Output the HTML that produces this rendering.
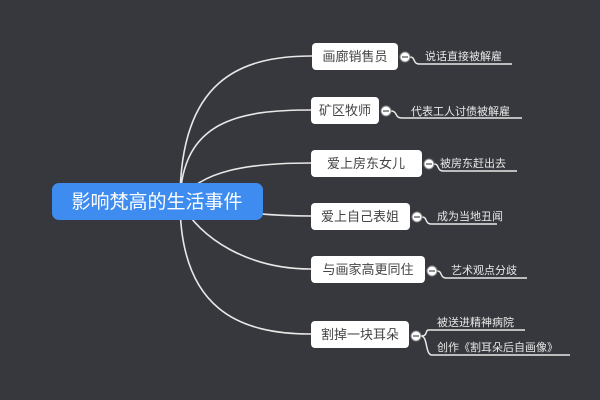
<!DOCTYPE html>
<html><head><meta charset="utf-8"><style>
body{margin:0;background:#36383d;}
svg{display:block}
text{font-family:"Liberation Sans","Noto Sans CJK SC",sans-serif;}
</style></head><body>
<svg width="600" height="400" xmlns="http://www.w3.org/2000/svg">
<rect width="600" height="400" fill="#36383d"/>
<g fill="none" stroke="#e8e8e8" stroke-width="1.6">
<path d="M180,201 C180,80 240,56 312,56"/>
<path d="M180,201 C182,120 240,110 311,110"/>
<path d="M180,201 C200,170 250,163 311,163"/>
<path d="M180,201 C220,210 260,216 311,216"/>
<path d="M180,201 C200,240 250,269 311,269"/>
<path d="M180,201 C180,310 240,334 311,334"/>
</g>
<rect x="52" y="183" width="211" height="37" rx="7" fill="#3f8cf0"/>
<text x="157" y="208" font-size="19" fill="#fff" text-anchor="middle">影响梵高的生活事件</text>
<g font-size="13" fill="#444">
<rect x="312" y="43" width="86" height="27" rx="4" fill="#fff"/><text x="355" y="61" text-anchor="middle">画廊销售员</text>
<rect x="311" y="97" width="68" height="27" rx="4" fill="#fff"/><text x="345" y="115" text-anchor="middle">矿区牧师</text>
<rect x="311" y="150" width="111" height="27" rx="4" fill="#fff"/><text x="366" y="168" text-anchor="middle">爱上房东女儿</text>
<rect x="311" y="203" width="99" height="27" rx="4" fill="#fff"/><text x="360" y="221" text-anchor="middle">爱上自己表姐</text>
<rect x="311" y="256" width="114" height="27" rx="4" fill="#fff"/><text x="368" y="274" text-anchor="middle">与画家高更同住</text>
<rect x="311" y="321" width="98" height="27" rx="4" fill="#fff"/><text x="360" y="339" text-anchor="middle">割掉一块耳朵</text>
</g>
<g fill="none" stroke="#e8e8e8" stroke-width="1.5">
<path d="M410,57 C416,57 412,64 420,64 L512,64"/>
<path d="M391,111 C398,111 394,118 402,118 L522,118"/>
<path d="M434,164 C440,164 436,171 444,171 L517,171"/>
<path d="M422,217 C428,217 424,224 432,224 L497,224"/>
<path d="M437,271 C443,271 439,278 447,278 L527,278"/>
<path d="M421,336 C428,336 425,331 428,330 L525,330 M421,336 C428,336 425,355 432,355 L570,355"/>
</g>
<g fill="#fff" stroke="#888" stroke-width="1">
<circle cx="405" cy="57" r="5"/><circle cx="386" cy="111" r="5"/><circle cx="429" cy="164" r="5"/>
<circle cx="417" cy="217" r="5"/><circle cx="432" cy="271" r="5"/><circle cx="416" cy="336" r="5"/>
</g>
<g stroke="#555" stroke-width="1.2">
<path d="M402,57h6M383,111h6M426,164h6M414,217h6M429,271h6M413,336h6"/>
</g>
<g font-size="11" fill="#e8e8e8">
<text x="425" y="60">说话直接被解雇</text>
<text x="411" y="115">代表工人讨债被解雇</text>
<text x="440" y="167">被房东赶出去</text>
<text x="437" y="220">成为当地丑闻</text>
<text x="451" y="274">艺术观点分歧</text>
<text x="437" y="326">被送进精神病院</text>
<text x="437" y="351">创作《割耳朵后自画像》</text>
</g>
</svg>
</body></html>
